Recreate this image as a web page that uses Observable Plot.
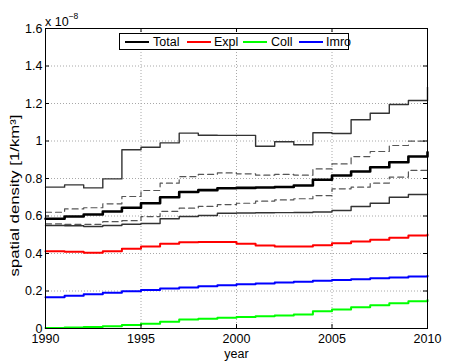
<!DOCTYPE html>
<html><head><meta charset="utf-8">
<script src="https://cdn.jsdelivr.net/npm/d3@7"></script>
<script src="https://cdn.jsdelivr.net/npm/@observablehq/plot@0.6"></script>
<style>
body{margin:0;background:#fff;}
#wrap{position:relative;width:474px;height:361px;font-family:"Liberation Sans",Arial,Helvetica,sans-serif;color:#000;}
#wrap svg{position:absolute;left:0;top:0;}
.ov{position:absolute;white-space:nowrap;line-height:1;}
#legend{position:absolute;left:119px;top:33px;width:230px;height:17px;border:1px solid #000;background:#fff;box-sizing:border-box;}
.li{position:absolute;top:0;height:15px;}
.li .sw{position:absolute;top:7px;width:24px;height:0;border-top:2px solid #000;}
.li .tx{position:absolute;top:1px;font-size:12.5px;}
</style></head><body><div id="wrap"></div>
<script>
const years = [1990,1991,1992,1993,1994,1995,1996,1997,1998,1999,2000,2001,2002,2003,2004,2005,2006,2007,2008,2009,2010];
const total      = [0.585,0.597,0.608,0.624,0.644,0.668,0.700,0.728,0.738,0.748,0.750,0.752,0.755,0.763,0.793,0.816,0.837,0.860,0.887,0.917,0.940];
const totalMax   = [0.754,0.766,0.750,0.798,0.953,0.967,0.990,1.042,1.031,1.030,1.030,0.972,0.996,0.980,1.044,1.040,1.113,1.148,1.195,1.216,1.287];
const totalMin   = [0.549,0.548,0.544,0.549,0.556,0.560,0.585,0.597,0.603,0.615,0.616,0.617,0.618,0.619,0.621,0.629,0.651,0.668,0.700,0.715,0.718];
const totalUpSd  = [0.620,0.638,0.644,0.665,0.704,0.736,0.775,0.810,0.822,0.830,0.825,0.818,0.822,0.818,0.851,0.878,0.917,0.944,0.976,0.999,1.005];
const totalLoSd  = [0.558,0.555,0.555,0.570,0.575,0.597,0.625,0.642,0.651,0.661,0.668,0.679,0.686,0.692,0.709,0.745,0.754,0.775,0.807,0.843,0.845];
const expl       = [0.412,0.410,0.404,0.412,0.425,0.437,0.452,0.460,0.462,0.461,0.452,0.443,0.437,0.438,0.444,0.455,0.464,0.473,0.484,0.496,0.502];
const coll       = [0.003,0.005,0.008,0.012,0.019,0.026,0.036,0.048,0.052,0.057,0.062,0.066,0.070,0.075,0.092,0.101,0.113,0.124,0.135,0.145,0.152];
const imro       = [0.167,0.175,0.183,0.191,0.199,0.206,0.213,0.219,0.225,0.231,0.236,0.240,0.245,0.250,0.255,0.259,0.263,0.268,0.272,0.277,0.281];

const xTicks = [1990,1995,2000,2005,2010];
const xTickLabels = ["1990","1995","2000","2005","2010"];
const yTicks = [0,0.2,0.4,0.6,0.8,1.0,1.2,1.4,1.6];
const yTickLabels = ["0","0.2","0.4","0.6","0.8","1","1.2","1.4","1.6"];
const legendNames = ["Total","Expl","Coll","Imro"];
const legendColors = ["#000000","#ff0000","#00ff00","#0000ff"];

const toRows = vals => years.map((y,i)=>({year:y, v:vals[i]}));

const gridStyle = {stroke:"#a8a8a8", strokeOpacity:1, strokeWidth:1, strokeDasharray:"1,2"};
const chart = Plot.plot({
  width:474, height:361,
  marginLeft:45, marginRight:47, marginTop:28, marginBottom:33,
  style:{fontFamily:'"Liberation Sans",Arial,Helvetica,sans-serif', fontSize:"12.5px", background:"transparent", color:"#000"},
  x:{domain:[1990,2010]},
  y:{domain:[0,1.6]},
  marks:[
    Plot.gridX(xTicks, gridStyle),
    Plot.gridY(yTicks, gridStyle),
    Plot.line(toRows(totalUpSd), {x:"year", y:"v", curve:"step-after", stroke:"#555", strokeWidth:1.2, strokeDasharray:"6,4"}),
    Plot.line(toRows(totalLoSd), {x:"year", y:"v", curve:"step-after", stroke:"#555", strokeWidth:1.2, strokeDasharray:"6,4"}),
    Plot.line(toRows(totalMax), {x:"year", y:"v", curve:"step-after", stroke:"#333", strokeWidth:1.4}),
    Plot.line(toRows(totalMin), {x:"year", y:"v", curve:"step-after", stroke:"#333", strokeWidth:1.4}),
    Plot.line(toRows(total), {x:"year", y:"v", curve:"step-after", stroke:legendColors[0], strokeWidth:2.6}),
    Plot.line(toRows(expl), {x:"year", y:"v", curve:"step-after", stroke:legendColors[1], strokeWidth:2}),
    Plot.line(toRows(coll), {x:"year", y:"v", curve:"step-after", stroke:legendColors[2], strokeWidth:2}),
    Plot.line(toRows(imro), {x:"year", y:"v", curve:"step-after", stroke:legendColors[3], strokeWidth:2}),
    Plot.frame({stroke:"#000", strokeWidth:1}),
    Plot.tickX(xTicks, {x:d=>d, insetTop:296, stroke:"#000"}),
    Plot.tickX(xTicks, {x:d=>d, insetBottom:296, stroke:"#000"}),
    Plot.tickY(yTicks, {y:d=>d, insetRight:378, stroke:"#000"}),
    Plot.tickY(yTicks, {y:d=>d, insetLeft:378, stroke:"#000"}),
    Plot.axisX(xTicks, {anchor:"bottom", tickSize:0, tickPadding:6, tickFormat:(d)=>xTickLabels[xTicks.indexOf(d)], label:"year", labelAnchor:"center", labelOffset:29, labelArrow:"none"}),
    Plot.axisY(yTicks, {anchor:"left", tickSize:0, tickPadding:3, tickFormat:(d)=>yTickLabels[yTicks.indexOf(d)], label:"spatial density [1/km³]", labelAnchor:"center", labelOffset:36, labelArrow:"none"})
  ]
});
const wrap = document.getElementById("wrap");
wrap.appendChild(chart);

// stretch the y label along its length to match the reference's proportions
chart.querySelectorAll("text").forEach(t => {
  if (t.textContent.indexOf("spatial") === 0) {
    t.setAttribute("font-size", "13.5px");
    t.setAttribute("textLength", "162");
    t.setAttribute("lengthAdjust", "spacingAndGlyphs");
    t.setAttribute("dx", "-17");
  }
});

// exponent label
const ex = document.createElement("div");
ex.className = "ov";
ex.style.left = "45px"; ex.style.top = "14px"; ex.style.fontSize = "12.5px";
ex.innerHTML = 'x 10<sup style="font-size:8.5px;position:relative;top:-2px;">−8</sup>';
wrap.appendChild(ex);

// legend
const lg = document.createElement("div");
lg.id = "legend";
const lineX = [5, 67, 123, 179];
const textX = [33, 94, 151, 206];
legendNames.forEach((n,i)=>{
  const it = document.createElement("div");
  it.className = "li";
  it.innerHTML = `<div class="sw" style="left:${lineX[i]}px;border-top-color:${legendColors[i]}"></div><div class="tx" style="left:${textX[i]}px">${n}</div>`;
  lg.appendChild(it);
});
wrap.appendChild(lg);
</script></body></html>
